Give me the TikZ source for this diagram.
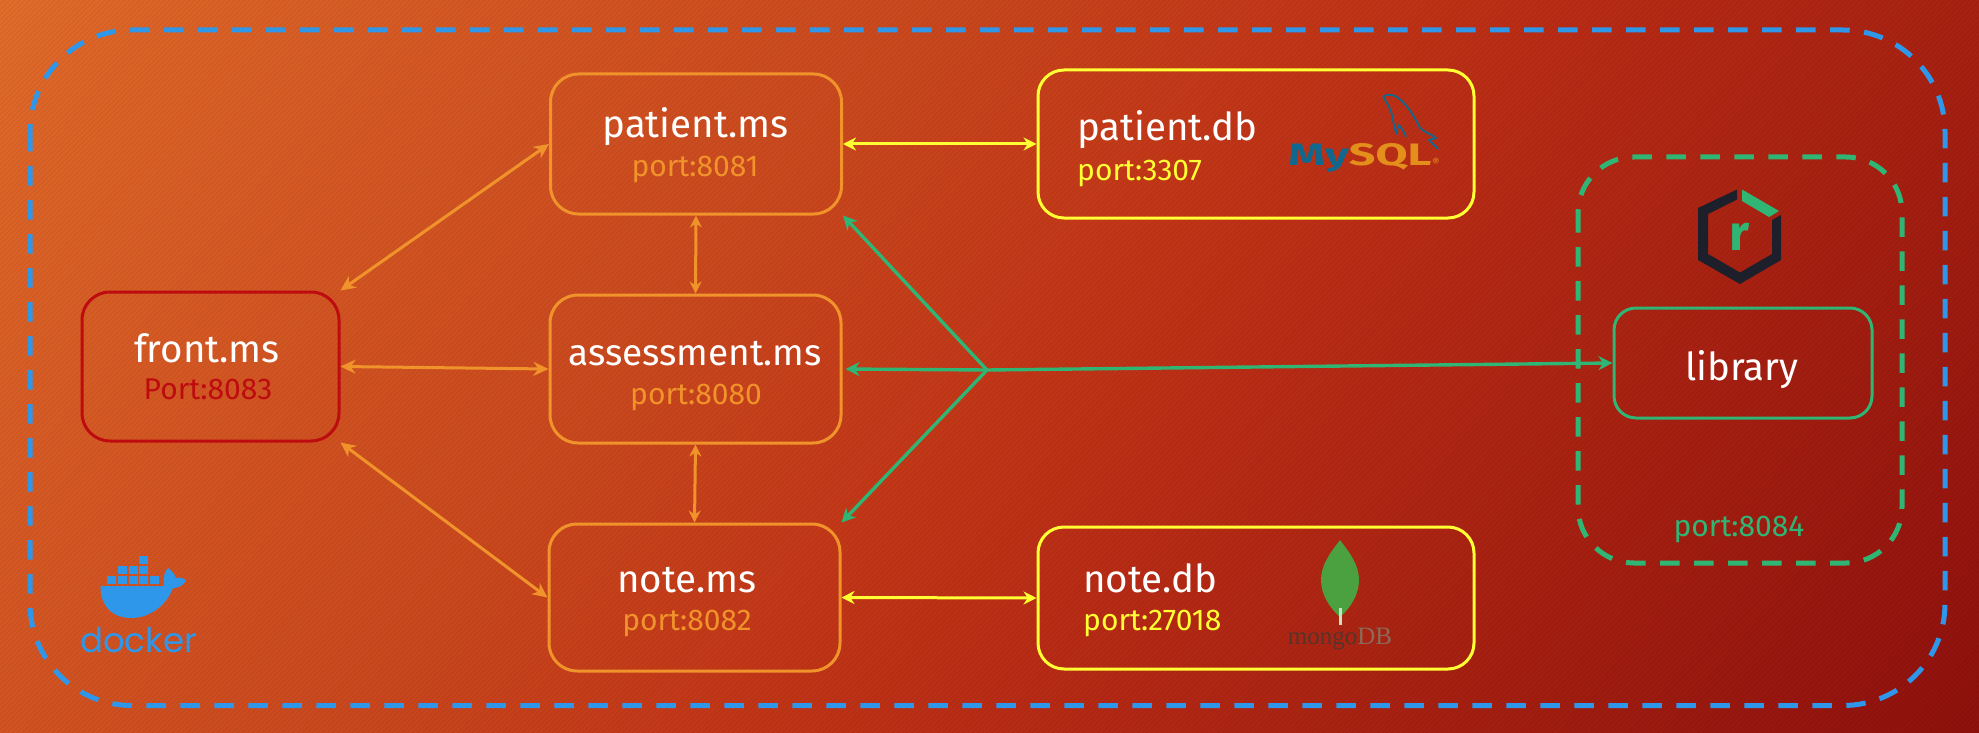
\documentclass[tikz,border=0pt]{standalone}
\usepackage{fontspec}
\setmainfont{Fira Sans}
\newfontfamily\poppinsf{Poppins}
\newfontfamily\serf{Liberation Serif}
\usetikzlibrary{arrows.meta}
\definecolor{bgA}{HTML}{EC7C31}
\definecolor{bgA2}{HTML}{DE6528}
\definecolor{bgA3}{HTML}{CB481E}
\definecolor{bgB}{HTML}{C43818}
\definecolor{bgB2}{HTML}{BA2C15}
\definecolor{bgB3}{HTML}{A01C10}
\definecolor{bgC}{HTML}{85090B}
\definecolor{cOrange}{HTML}{F0932B}
\definecolor{cYellow}{HTML}{FFFF33}
\definecolor{cRed}{HTML}{BE0B10}
\definecolor{cGreen}{HTML}{2FB574}
\definecolor{cBlue}{HTML}{2F97EA}
\definecolor{cDark}{HTML}{1D1F2B}
\definecolor{cMyBlue}{HTML}{10688F}
\definecolor{cMyOr}{HTML}{E48E1C}
\definecolor{cLeaf}{HTML}{4BA03F}
\pgfdeclarehorizontalshading{bgshade}{100bp}{color(0bp)=(bgA); color(23bp)=(bgA); color(29.9bp)=(bgA2); color(44bp)=(bgA3); color(50bp)=(bgB); color(55bp)=(bgB2); color(65.6bp)=(bgB3); color(77bp)=(bgC); color(100bp)=(bgC)}
\tikzset{
  x=1pt,y=-1pt,
  box/.style={draw,rounded corners=28pt,line width=3pt,inner sep=0pt},
  msbox/.style={box,draw=cOrange,minimum width=291pt,minimum height=140pt},
  dbbox/.style={box,draw=cYellow,rounded corners=26pt,minimum width=436pt},
  title/.style={text=white,font=\fontsize{38.5}{38.5}\selectfont,inner sep=0pt,anchor=base},
  porttxt/.style={font=\fontsize{30}{30}\selectfont,inner sep=0pt,anchor=base},
  oarrow/.style={draw=cOrange,line width=3pt,{Stealth[length=15pt,width=14pt]}-{Stealth[length=15pt,width=14pt]}},
  varrow/.style={draw=cOrange,line width=3pt,{Stealth[length=12pt,width=12pt]}-{Stealth[length=12pt,width=12pt]}},
  yarrow/.style={draw=cYellow,line width=3pt,{Stealth[length=13pt,width=13pt]}-{Stealth[length=13pt,width=13pt]}},
  garrow/.style={draw=cGreen,line width=3.4pt,-{Stealth[length=14pt,width=14pt]}},
  dashb/.style={line width=5pt,dash pattern=on 19.5pt off 14.5pt},
}
\begin{document}
\begin{tikzpicture}
\useasboundingbox (0,0) rectangle (1979,733);
\clip (0,0) rectangle (1979,733);
\shade[shading=bgshade,shading angle=-40] (-110.5,-733.5) rectangle (2089.5,1466.5);
\foreach \i in {0,5,...,2730} {
  \draw[black,opacity=0.05,line width=1.5pt] (\i,-5) -- (\i-740,735);
}
% outer dashed frames
\draw[cBlue,dashb,rounded corners=102pt] (30,30) rectangle (1945,705.5);
\draw[cGreen,dashb,rounded corners=56pt] (1578,157) rectangle (1902,563);
% boxes
\node[box,draw=cRed,minimum width=257pt,minimum height=149pt] (front) at (210.5,366.5) {};
\node[msbox] (patient) at (696,144) {};
\node[msbox,minimum height=148pt] (assess) at (695.5,369) {};
\node[msbox,minimum height=147pt] (note) at (694.5,597.5) {};
\node[dbbox,minimum height=148pt] (pdb) at (1256,144) {};
\node[dbbox,minimum height=142pt] (ndb) at (1256,598) {};
\node[box,draw=cGreen,rounded corners=22pt,minimum width=258pt,minimum height=110pt] (library) at (1743,363) {};
% hub
\coordinate (hub) at (987,370);
% connectors
\draw[oarrow] (front.north east) -- (patient.west);
\draw[oarrow] (front.east) -- (assess.west);
\draw[oarrow] (front.south east) -- (note.west);
\draw[varrow] (patient.south) -- (assess.north);
\draw[varrow] (assess.south) -- (note.north);
\draw[yarrow] (patient.east) -- (pdb.west);
\draw[yarrow] (note.east) -- (ndb.west);
\draw[garrow] (hub) -- (patient.south east);
\draw[garrow,shorten >=3pt] (hub) -- (assess.east);
\draw[garrow] (hub) -- (note.north east);
\draw[garrow] (hub) -- (library.west);
% labels
\node[title] (t1) at (207,362) {front.ms};
\node[porttxt,text=cRed] (p1) at (208,399) {Port:8083};
\node[title] (t2) at (695.5,138) {patient.ms};
\node[porttxt,text=cOrange] (p2) at (695,177) {port:8081};
\node[title,font=\fontsize{37}{37}\selectfont] (t3) at (695,365) {assessment.ms};
\node[porttxt,text=cOrange] (p3) at (696,404) {port:8080};
\node[title] (t4) at (687,592) {note.ms};
\node[porttxt,text=cOrange] (p4) at (687,630) {port:8082};
\node[title,anchor=base west] (t5) at (1077,141) {patient.db};
\node[porttxt,anchor=base west,text=cYellow] (p5) at (1077,180) {port:3307};
\node[title,anchor=base west] (t6) at (1083,592) {note.db};
\node[porttxt,anchor=base west,text=cYellow] (p6) at (1083,630) {port:27018};
\node[title] (t7) at (1742,380) {library};
\node[porttxt,text=cGreen] (p7) at (1739,536) {port:8084};
% docker logo
\foreach \x/\y in {107/575.5,118/575.5,129/575.5,139.3/575.5,150/575.5,118/565.5,129/565.5,139.3/565.5,139.3/555.5}
  \fill[cBlue] (\x,\y) rectangle ++(9,8.5);
\fill[cBlue] (100.5,586) -- (164,586) .. controls (163,578) and (164,572) .. (168,568)
  .. controls (172,571) and (175,574) .. (175.5,578) .. controls (179,577) and (183,578) .. (186,580)
  .. controls (184,585) and (179,588) .. (173,588) .. controls (167,604) and (151,618) .. (131,618)
  .. controls (111,618) and (100,604) .. (100.5,586) -- cycle;
\node[text=cBlue,font=\poppinsf\fontsize{34}{34}\selectfont,inner sep=0pt,anchor=base] (dockertxt) at (138.5,652) {docker};
% mysql logo
\draw[cMyBlue,line width=1.8pt,line join=round]
  (1383,97) .. controls (1386,94) and (1392,94) .. (1397,97) .. controls (1408,105) and (1415,118) .. (1420,128)
  .. controls (1425,133) and (1432,134) .. (1436,138) -- (1429,140) -- (1438,149);
\draw[cMyBlue,line width=1.8pt,line join=round] (1383,97) .. controls (1388,104) and (1392,112) .. (1393,120) .. controls (1394,126) and (1396,132) .. (1396,134)
  .. controls (1397,129) and (1398,127) .. (1399,125) .. controls (1403,130) and (1405,134) .. (1406,137);
\node[inner sep=0pt,anchor=base west,font=\bfseries\fontsize{31}{31}\selectfont,xscale=1.5,transform shape] (mysqltxt) at (1288,165) {\textcolor{cMyBlue}{My}\textcolor{cMyOr}{SQL}};
\node[text=cMyOr,font=\fontsize{11}{11}\selectfont,inner sep=0pt] (mysqlreg) at (1436,162) {®};
% mongo logo
\fill[cLeaf] (1340,540) .. controls (1330,553) and (1321,565) .. (1321,580) .. controls (1321,595) and (1330,608) .. (1339,616)
  -- (1341,616) .. controls (1350,608) and (1359,595) .. (1359,580) .. controls (1359,565) and (1350,553) .. (1340,540) -- cycle;
\draw[draw=white!70!cLeaf,line width=2.5pt] (1340.5,608) -- (1340.5,625);
\node[inner sep=0pt,anchor=base,font=\serf\fontsize{25}{25}\selectfont] (mongotxt) at (1340,644) {\textcolor[HTML]{55352A}{mongo}\textcolor[HTML]{8C6A58}{DB}};
% hexagon logo
\fill[cDark] (1737,189.5) -- (1737,199.5) -- (1708,214) -- (1708,254) -- (1740,272.5) -- (1772,254) -- (1772,220) -- (1781,215) -- (1781,260) -- (1740,284) -- (1698,260) -- (1698,208) -- cycle;
\fill[cGreen] (1742,189.5) -- (1779,211) -- (1769,217) -- (1742,201) -- cycle;
\node[text=cGreen,font=\bfseries\fontsize{50}{50}\selectfont,inner sep=0pt,anchor=base] (rtxt) at (1740,250) {r};
\end{tikzpicture}
\end{document}
